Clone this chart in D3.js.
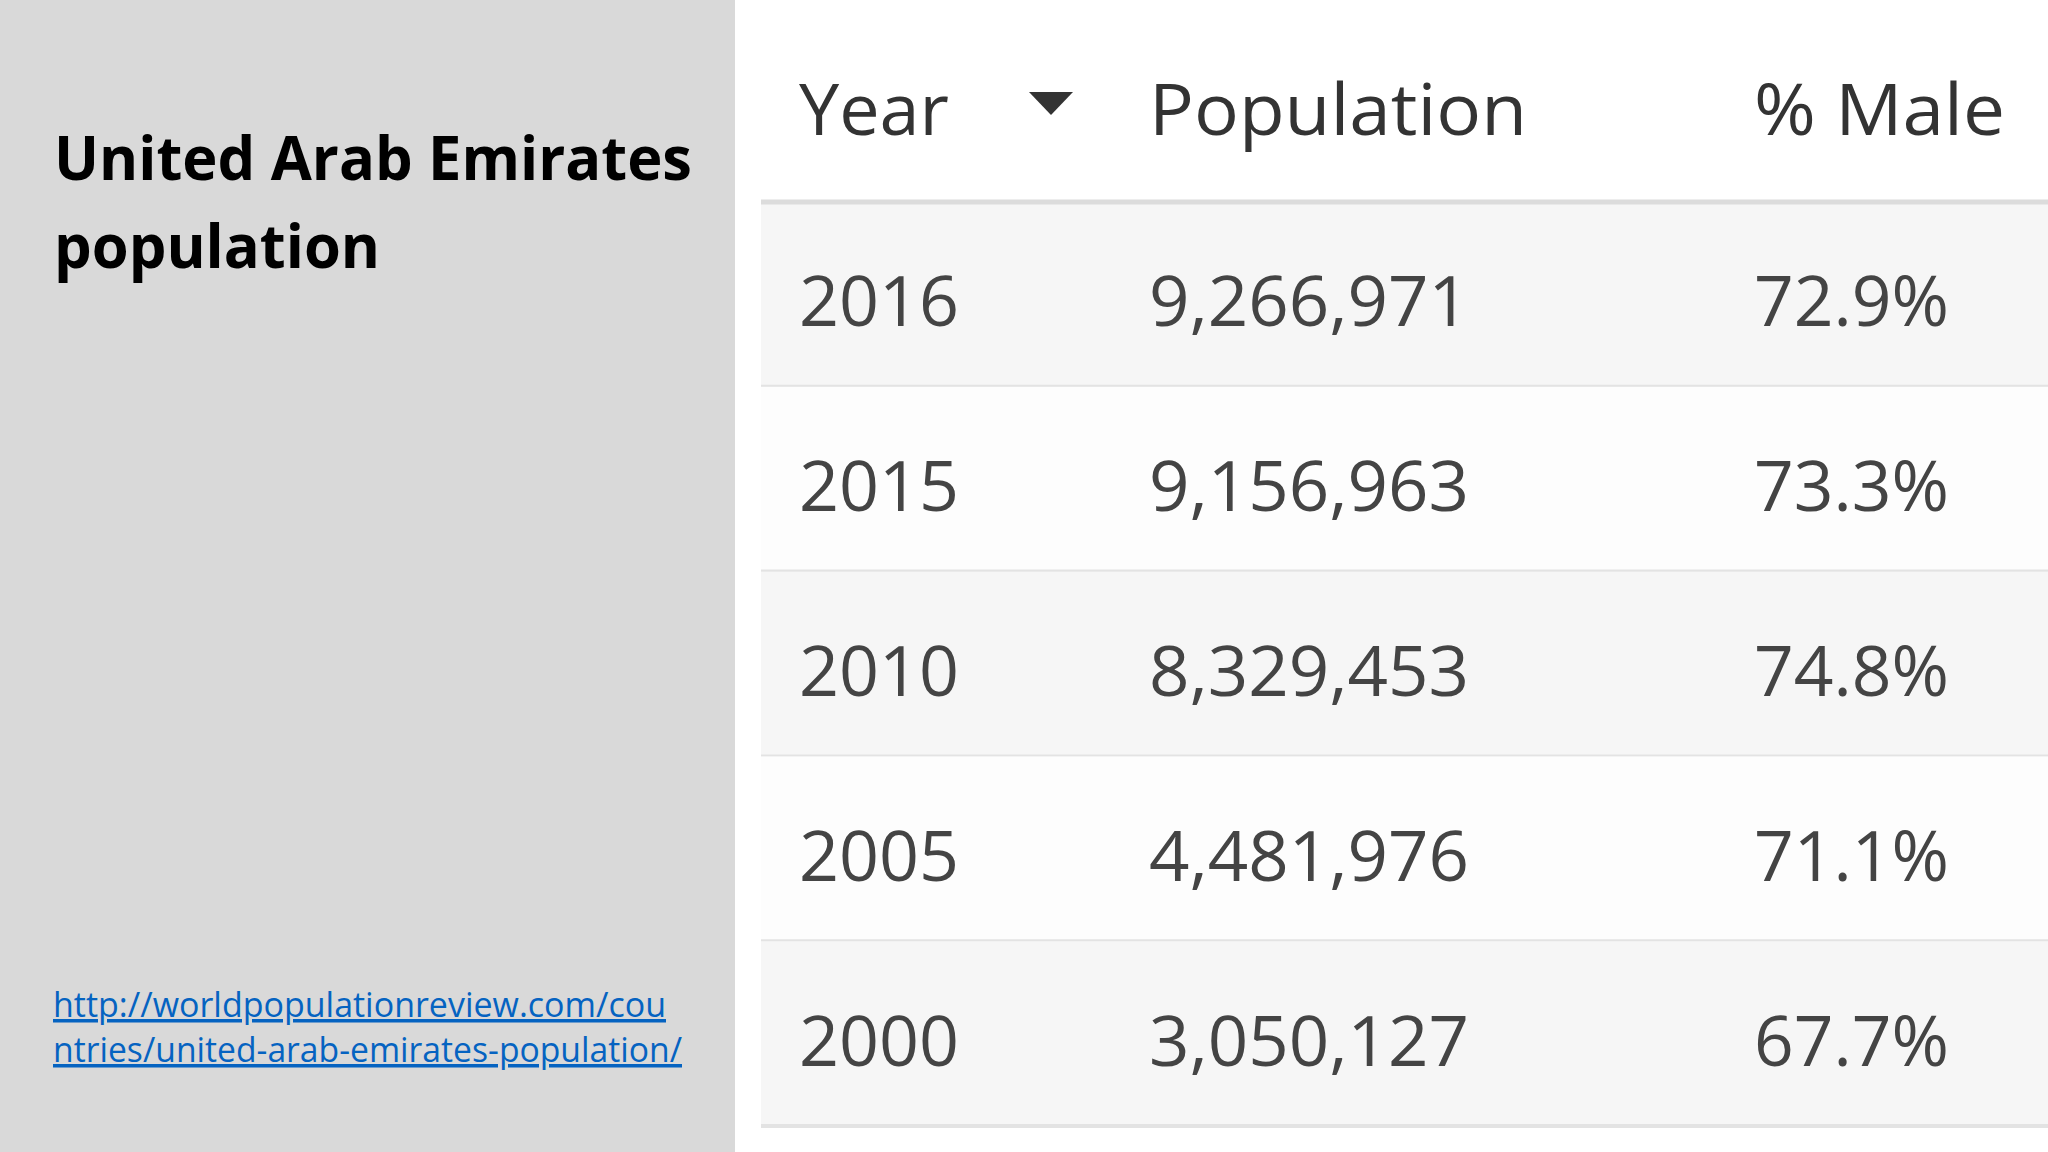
<!DOCTYPE html>
<html lang="en">
<head>
<meta charset="UTF-8" />
<title>United Arab Emirates population</title>
<script src="https://d3js.org/d3.v7.min.js"></script>
<style>
  body { margin: 0; background: #fff; }
  svg { display: block; font-family: "Open Sans", "Noto Sans", sans-serif; }
</style>
</head>
<body>
<svg id="chart" width="2048" height="1152"></svg>
<script>
// ---------- DATA ----------
const headers = ["Year", "Population", "% Male"];
const years = ["2016", "2015", "2010", "2005", "2000"];
const population = ["9,266,971", "9,156,963", "8,329,453", "4,481,976", "3,050,127"];
const pctMale = ["72.9%", "73.3%", "74.8%", "71.1%", "67.7%"];
const titleLines = ["United Arab Emirates", "population"];
const linkLines = ["http://worldpopulationreview.com/cou", "ntries/united-arab-emirates-population/"];

const W = 2048, H = 1152;
const svg = d3.select("#chart");

// left gray panel
svg.append("rect").attr("width", 735).attr("height", H).attr("fill", "#d9d9d9");

svg.selectAll(".title").data(titleLines).join("text")
  .attr("x", 54).attr("y", (d, i) => 180 + i * 88)
  .attr("font-size", 60).attr("font-weight", 700).attr("fill", "#000")
  .attr("textLength", (d, i) => i === 0 ? 638 : 326).attr("lengthAdjust", "spacingAndGlyphs")
  .text(d => d);

svg.selectAll(".link").data(linkLines).join("text")
  .attr("x", 53).attr("y", (d, i) => 1017 + i * 45)
  .attr("font-size", 35).attr("fill", "#0563c1")
  .attr("text-decoration", "underline")
  .attr("textLength", (d, i) => i === 0 ? 613 : 629).attr("lengthAdjust", "spacingAndGlyphs")
  .text(d => d);

// ---------- TABLE ----------
const rows = years.map((y, i) => [y, population[i], pctMale[i]]);
const y = d3.scaleBand().domain(d3.range(rows.length)).range([202, 1126]).padding(0);
const colX = [799, 1149, 1754];
const tableLeft = 761;

const rowG = svg.selectAll(".row").data(rows).join("g")
  .attr("transform", (d, i) => `translate(0,${y(i)})`);
rowG.append("rect").attr("x", tableLeft).attr("width", W - tableLeft)
  .attr("height", y.bandwidth())
  .attr("fill", (d, i) => i % 2 === 0 ? "#f6f6f6" : "#fdfdfd");
rowG.append("line").attr("x1", tableLeft).attr("x2", W)
  .attr("y1", y.bandwidth()).attr("y2", y.bandwidth())
  .attr("stroke", "#e3e3e3").attr("stroke-width", 4);
rowG.selectAll("text").data(d => d).join("text")
  .attr("x", (d, j) => colX[j]).attr("y", y.bandwidth() / 2 + 32)
  .attr("font-size", 70).attr("fill", "#444")
  .attr("textLength", (d, j) => [160, 320, 195][j]).attr("lengthAdjust", "spacingAndGlyphs")
  .text(d => d);

// header
svg.append("line").attr("x1", tableLeft).attr("x2", W).attr("y1", 202).attr("y2", 202)
  .attr("stroke", "#dcdcdc").attr("stroke-width", 5);
svg.selectAll(".hdr").data(headers).join("text")
  .attr("x", (d, j) => colX[j]).attr("y", 135)
  .attr("font-size", 72).attr("fill", "#333")
  .attr("textLength", (d, j) => [150, 378, 251][j]).attr("lengthAdjust", "spacingAndGlyphs")
  .text(d => d);
// sort arrow
svg.append("path").attr("d", d3.line()([[1029, 92], [1073, 92], [1051, 115]]) + "Z")
  .attr("fill", "#333");
</script>
</body>
</html>
